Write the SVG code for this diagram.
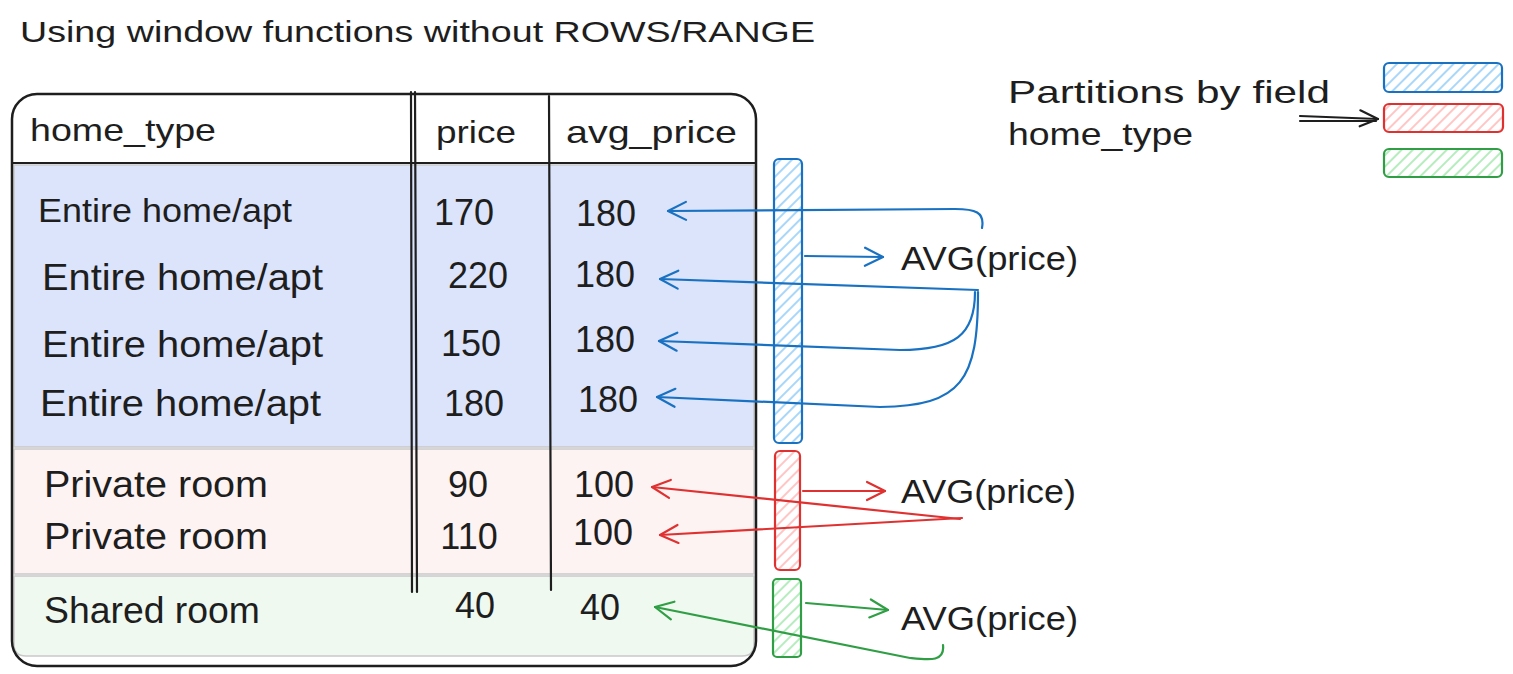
<svg xmlns="http://www.w3.org/2000/svg" width="1513" height="674" viewBox="0 0 1513 674">
<style>
text{font-family:"Liberation Sans",Arial,sans-serif;fill:#1e1e1e}
.h{font-size:32px}
.c{font-size:37px}
.n{font-size:36px;text-anchor:middle}
.avg{font-size:34px}
.ln{fill:none;stroke:#1e1e1e;stroke-width:2.2;stroke-linecap:round}
.sep{stroke:#c9c9c9;stroke-width:1.5}
.b{fill:none;stroke:#1971c2;stroke-width:2.2;stroke-linecap:round}
.r{fill:none;stroke:#e03131;stroke-width:2.2;stroke-linecap:round}
.g{fill:none;stroke:#2f9e44;stroke-width:2.2;stroke-linecap:round}
</style>
<defs>
<pattern id="hb" patternUnits="userSpaceOnUse" width="8" height="8" patternTransform="rotate(45)"><line x1="1" y1="0" x2="1" y2="8" stroke="#8ccaf7" stroke-width="1.5"/></pattern>
<pattern id="hr" patternUnits="userSpaceOnUse" width="8" height="8" patternTransform="rotate(45)"><line x1="1" y1="0" x2="1" y2="8" stroke="#ffb3b3" stroke-width="1.5"/></pattern>
<pattern id="hg" patternUnits="userSpaceOnUse" width="8" height="8" patternTransform="rotate(45)"><line x1="1" y1="0" x2="1" y2="8" stroke="#9ee6a8" stroke-width="1.5"/></pattern>
<marker id="mb" markerUnits="userSpaceOnUse" markerWidth="24" markerHeight="24" viewBox="0 0 24 24" refX="21" refY="12" orient="auto"><path d="M3,3 L21,12 L3,21" fill="none" stroke="#1971c2" stroke-width="2.2" stroke-linecap="round" stroke-linejoin="round"/></marker>
<marker id="mr" markerUnits="userSpaceOnUse" markerWidth="24" markerHeight="24" viewBox="0 0 24 24" refX="21" refY="12" orient="auto"><path d="M3,3 L21,12 L3,21" fill="none" stroke="#e03131" stroke-width="2.2" stroke-linecap="round" stroke-linejoin="round"/></marker>
<marker id="mg" markerUnits="userSpaceOnUse" markerWidth="24" markerHeight="24" viewBox="0 0 24 24" refX="21" refY="12" orient="auto"><path d="M3,3 L21,12 L3,21" fill="none" stroke="#2f9e44" stroke-width="2.2" stroke-linecap="round" stroke-linejoin="round"/></marker>
<marker id="mk" markerUnits="userSpaceOnUse" markerWidth="24" markerHeight="24" viewBox="0 0 24 24" refX="21" refY="12" orient="auto"><path d="M3,4 L21,12 L3,20" fill="none" stroke="#1e1e1e" stroke-width="2.2" stroke-linecap="round" stroke-linejoin="round"/></marker>
</defs>
<rect width="1513" height="674" fill="#ffffff"/>

<g id="title">
<text x="20" y="42" font-size="30" textLength="795" lengthAdjust="spacingAndGlyphs">Using window functions without ROWS/RANGE</text>
</g>

<g id="table">
<rect x="14" y="165" width="740" height="282" fill="#dbe4fb" class="sep"/>
<rect x="14" y="449" width="740" height="125" fill="#fdf3f3" class="sep"/>
<path d="M14 576 H754 V644 Q754 656 742 656 H26 Q14 656 14 644 Z" fill="#eff9f0" class="sep"/>
<rect x="12" y="94" width="744" height="572" rx="25" ry="25" fill="none" stroke="#1e1e1e" stroke-width="2.5"/>
<line x1="12" y1="163" x2="756" y2="163" class="ln"/>
<line x1="411" y1="92" x2="412" y2="592" class="ln"/>
<line x1="415" y1="92" x2="417" y2="592" class="ln"/>
<line x1="549" y1="96" x2="551" y2="590" class="ln"/>
<text class="h" x="30" y="141" textLength="186" lengthAdjust="spacingAndGlyphs">home_type</text>
<text class="h" x="436" y="143" textLength="80" lengthAdjust="spacingAndGlyphs">price</text>
<text class="h" x="566" y="143" textLength="171" lengthAdjust="spacingAndGlyphs">avg_price</text>
</g>

<g id="row1">
<text x="38" y="222" font-size="33" textLength="254" lengthAdjust="spacingAndGlyphs">Entire home/apt</text>
<text class="n" x="464" y="225">170</text>
<text class="n" x="606" y="226">180</text>
</g>
<g id="row2">
<text class="c" x="42" y="290" textLength="281" lengthAdjust="spacingAndGlyphs">Entire home/apt</text>
<text class="n" x="478" y="288">220</text>
<text class="n" x="605" y="287">180</text>
</g>
<g id="row3">
<text class="c" x="42" y="357" textLength="281" lengthAdjust="spacingAndGlyphs">Entire home/apt</text>
<text class="n" x="471" y="356">150</text>
<text class="n" x="605" y="352">180</text>
</g>
<g id="row4">
<text class="c" x="40" y="416" textLength="281" lengthAdjust="spacingAndGlyphs">Entire home/apt</text>
<text class="n" x="474" y="416">180</text>
<text class="n" x="608" y="412">180</text>
</g>
<g id="row5">
<text class="c" x="44" y="497" textLength="224" lengthAdjust="spacingAndGlyphs">Private room</text>
<text class="n" x="468" y="497">90</text>
<text class="n" x="604" y="497">100</text>
</g>
<g id="row6">
<text class="c" x="44" y="549" textLength="224" lengthAdjust="spacingAndGlyphs">Private room</text>
<text class="n" x="469" y="549">110</text>
<text class="n" x="603" y="545">100</text>
</g>
<g id="row7">
<text class="c" x="44" y="623" textLength="216" lengthAdjust="spacingAndGlyphs">Shared room</text>
<text class="n" x="475" y="618">40</text>
<text class="n" x="600" y="620">40</text>
</g>

<g id="bar-blue"><rect x="774" y="159" width="28" height="284" rx="5" fill="url(#hb)" stroke="#1971c2" stroke-width="2.2"/></g>
<g id="bar-red"><rect x="775" y="451" width="25" height="119" rx="5" fill="url(#hr)" stroke="#e03131" stroke-width="2.2"/></g>
<g id="bar-green"><rect x="773" y="579" width="28" height="78" rx="4" fill="url(#hg)" stroke="#2f9e44" stroke-width="2.2"/></g>

<g id="avg-blue"><text class="avg" x="901" y="270" textLength="177" lengthAdjust="spacingAndGlyphs">AVG(price)</text></g>
<g id="avg-red"><text class="avg" x="901" y="503" textLength="175" lengthAdjust="spacingAndGlyphs">AVG(price)</text></g>
<g id="avg-green"><text class="avg" x="901" y="630" textLength="177" lengthAdjust="spacingAndGlyphs">AVG(price)</text></g>

<g id="legend">
<text x="1008" y="103" font-size="32" textLength="322" lengthAdjust="spacingAndGlyphs">Partitions by field</text>
<text x="1008" y="145" font-size="32" textLength="185" lengthAdjust="spacingAndGlyphs">home_type</text>
<rect x="1384" y="63" width="118" height="29" rx="5" fill="url(#hb)" stroke="#1971c2" stroke-width="2.2"/>
<rect x="1384" y="104" width="119" height="28" rx="5" fill="url(#hr)" stroke="#e03131" stroke-width="2.2"/>
<rect x="1384" y="149" width="118" height="28" rx="5" fill="url(#hg)" stroke="#2f9e44" stroke-width="2.2"/>
</g>

<g id="connectors">
<path d="M1300 116 L1378 119" class="ln" marker-end="url(#mk)"/>
<path d="M1300 121 L1376 121" class="ln" stroke-width="1.4"/>
<path d="M805 256 L883 257" class="b" marker-end="url(#mb)"/>
<path d="M982 228 C985 212 975 209 955 209 L668 211" class="b" marker-end="url(#mb)"/>
<path d="M978 290 L660 279" class="b" marker-end="url(#mb)"/>
<path d="M975 292 C975 335 955 350 900 350 L659 341" class="b" marker-end="url(#mb)"/>
<path d="M978 292 C978 380 962 406 880 407 L657 397" class="b" marker-end="url(#mb)"/>
<path d="M803 491 L885 491" class="r" marker-end="url(#mr)"/>
<path d="M960 519 L652 487" class="r" marker-end="url(#mr)"/>
<path d="M962 518 L660 535" class="r" marker-end="url(#mr)"/>
<path d="M806 603 L888 610" class="g" marker-end="url(#mg)"/>
<path d="M943 645 C945 662 930 660 910 658 L655 607" class="g" marker-end="url(#mg)"/>
</g>
</svg>
